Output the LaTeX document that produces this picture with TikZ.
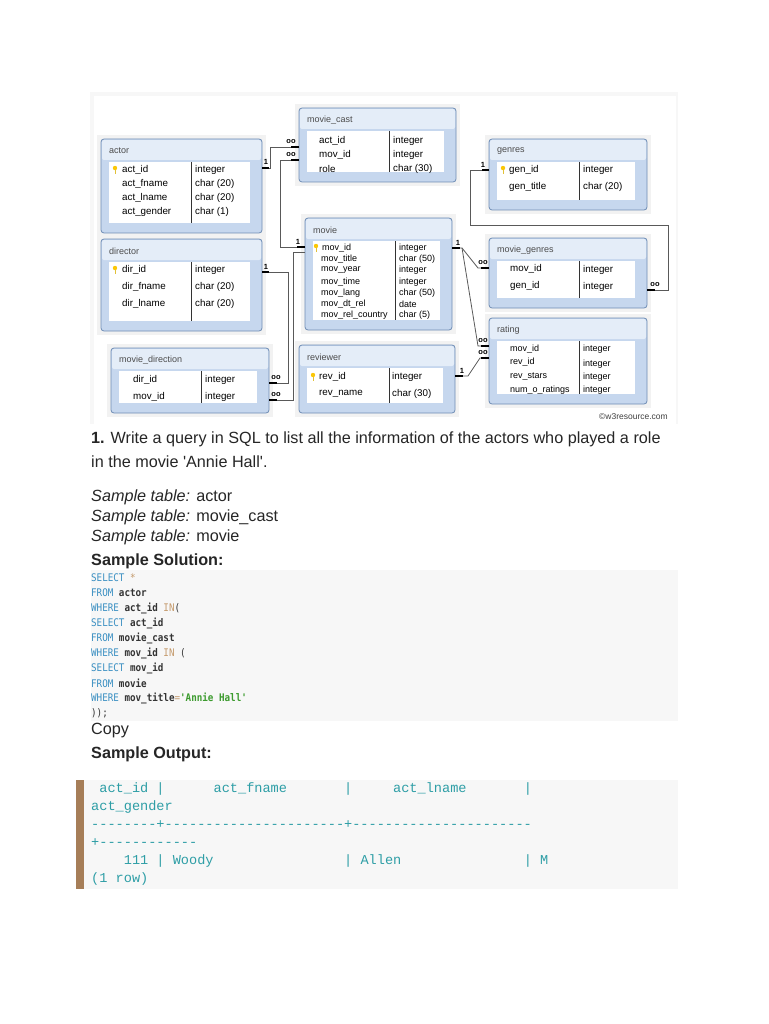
\documentclass[tikz,border=0pt]{standalone}
\usepackage{fontspec}
\setmainfont{Liberation Sans}
\setmonofont{Liberation Mono}
\newfontfamily\codefont{DejaVu Sans Mono}
\usetikzlibrary{calc}
\definecolor{tblborder}{HTML}{6F8DB5}
\definecolor{tblfill}{HTML}{C6D7EE}
\definecolor{tblhead}{HTML}{E4EDF8}
\definecolor{kw}{HTML}{3A8FC2}
\definecolor{opc}{HTML}{C49A6C}
\definecolor{strc}{HTML}{3C9B2E}
\definecolor{outc}{HTML}{2E9EA6}
\definecolor{barc}{HTML}{A67E58}
\definecolor{boxbg}{HTML}{F7F7F7}
\tikzset{
  fld/.style={anchor=west, inner sep=0pt, font=\fontsize{9.8}{9.8}\selectfont},
  small/.style={anchor=west, inner sep=0pt, font=\fontsize{9}{9}\selectfont},
  ttl/.style={anchor=west, inner sep=0pt, font=\fontsize{9}{9}\selectfont, text=black!70},
  link/.style={draw=black!65, line width=0.8pt},
  card/.style={line width=2pt, black},
  clab/.style={inner sep=0pt, font=\fontsize{7.5}{7.5}\selectfont\bfseries},
  body/.style={anchor=west, inner sep=0pt, font=\fontsize{16.2}{16.2}\selectfont, text=black!85},
  code/.style={anchor=west, inner sep=0pt, font=\fontsize{10.5}{10.5}\codefont, text=black!80, xscale=0.88},
  outl/.style={anchor=west, inner sep=0pt, font=\fontsize{13.6}{13.6}\ttfamily, text=outc},
}
% table: x1 y1 x2 y2 divider title
\newcommand\ertable[6]{%
  \fill[black!5] (#1-4,#2-4) rectangle (#3+4,#4+4);
  \draw[tblborder, fill=tblfill, rounded corners=3pt, line width=0.8pt] (#1,#2) rectangle (#3,#4);
  \fill[tblhead, rounded corners=2pt] (#1+1,#2+1) rectangle (#3-1,#2+21);
  \fill[white] (#1+8,#2+23) rectangle (#3-12,#4-10);
  \draw[black!80, line width=1pt] (#5,#2+23) -- (#5,#4-10);
  \node[ttl] at (#1+8,#2+12) {#6};
}
\newcommand\keyicon[2]{%
  \fill[yellow!60!orange] (#1,#2-2) circle (2.2pt);
  \draw[yellow!50!brown, line width=1pt] (#1,#2) -- (#1,#2+4);
}
\newcommand\manymark{\raisebox{0.3pt}{oo}}
\begin{document}
\begin{tikzpicture}[x=1pt,y=-1pt]
\useasboundingbox (0,0) rectangle (768,1024);
\fill[white] (0,0) rectangle (768,1024);
\fill[black!3] (90,92) rectangle (678,424);
\fill[white] (94,96) rectangle (676,424);

% tables
\ertable{101}{139}{262}{233}{191}{actor}
\keyicon{115}{170}
\node[fld] at (122,170) {act\_id}; \node[fld] at (195,170) {integer};
\node[fld] at (122,184) {act\_fname}; \node[fld] at (195,184) {char (20)};
\node[fld] at (122,198) {act\_lname}; \node[fld] at (195,198) {char (20)};
\node[fld] at (122,212) {act\_gender}; \node[fld] at (195,212) {char (1)};

\ertable{101}{239}{262}{331}{191}{director}
\keyicon{115}{270}
\node[fld] at (122,270) {dir\_id}; \node[fld] at (195,270) {integer};
\node[fld] at (122,287) {dir\_fname}; \node[fld] at (195,287) {char (20)};
\node[fld] at (122,304) {dir\_lname}; \node[fld] at (195,304) {char (20)};

\ertable{111}{348}{269}{413}{201}{movie\_direction}
\node[fld] at (133,380) {dir\_id}; \node[fld] at (205,380) {integer};
\node[fld] at (133,397) {mov\_id}; \node[fld] at (205,397) {integer};

\ertable{299}{108}{456}{182}{389}{movie\_cast}
\node[fld] at (319,141) {act\_id}; \node[fld] at (393,141) {integer};
\node[fld] at (319,155) {mov\_id}; \node[fld] at (393,155) {integer};
\node[fld] at (319,169) {role}; \node[fld] at (393,169) {char (30)};

\ertable{305}{218}{452}{330}{395}{movie}
\keyicon{316}{248}
\node[small] at (322,248) {mov\_id}; \node[small] at (399,248) {integer};
\node[small] at (321,259) {mov\_title}; \node[small] at (399,259) {char (50)};
\node[small] at (321,270) {mov\_year}; \node[small] at (399,270) {integer};
\node[small] at (321,282) {mov\_time}; \node[small] at (399,282) {integer};
\node[small] at (321,293) {mov\_lang}; \node[small] at (399,293) {char (50)};
\node[small] at (321,304) {mov\_dt\_rel}; \node[small] at (399,304) {date};
\node[small] at (321,315) {mov\_rel\_country}; \node[small] at (399,315) {char (5)};

\ertable{299}{345}{455}{413}{389}{reviewer}
\keyicon{313}{377}
\node[fld] at (319,377) {rev\_id}; \node[fld] at (392,377) {integer};
\node[fld] at (319,394) {rev\_name}; \node[fld] at (392,394) {char (30)};

\ertable{489}{139}{647}{210}{579}{genres}
\keyicon{503}{170}
\node[fld] at (509,170) {gen\_id}; \node[fld] at (583,170) {integer};
\node[fld] at (509,187) {gen\_title}; \node[fld] at (583,187) {char (20)};

\ertable{489}{238}{647}{308}{579}{movie\_genres}
\node[fld] at (510,269) {mov\_id}; \node[fld] at (583,270) {integer};
\node[fld] at (510,286) {gen\_id}; \node[fld] at (583,287) {integer};

\ertable{489}{318}{647}{404}{579}{rating}
\node[small] at (510,349) {mov\_id}; \node[small] at (583,349) {integer};
\node[small] at (510,362) {rev\_id}; \node[small] at (583,364) {integer};
\node[small] at (510,376) {rev\_stars}; \node[small] at (583,377) {integer};
\node[small] at (510,390) {num\_o\_ratings}; \node[small] at (583,390) {integer};

\node[anchor=east, inner sep=0pt, font=\fontsize{8.5}{8.5}\selectfont, text=black!75] (copy) at (668,417) {\textcopyright w3resource.com};

% connection points
\coordinate (actR) at (262,168);   \coordinate (mcA) at (299,147);
\coordinate (movLa) at (305,247);  \coordinate (mcB) at (299,160);
\coordinate (dirR) at (262,272);   \coordinate (mdA) at (269,383);
\coordinate (movLb) at (305,252);  \coordinate (mdB) at (269,400);
\coordinate (genL) at (489,170);   \coordinate (mgB) at (647,290);
\coordinate (movR) at (452,248);   \coordinate (mgA) at (489,268);
\coordinate (ratA) at (489,346);   \coordinate (revR) at (455,376);
\coordinate (ratB) at (489,358);

% connectors
\draw[link] (actR) -- ++(8,0) |- (mcA);
\draw[link] (movLa) -- (280,247) |- (mcB);
\draw[link] (dirR) -- (288,272) |- (mdA);
\draw[link] (movLb) -- (293,252) |- (mdB);
\draw[link] (genL) -- (470,170) -- (470,225) -- (668,225) |- (mgB);
\draw[link] (movR) -- (462,248) -- (478,268) -- (mgA);
\draw[link] (462,248) -- (478,346) -- (ratA);
\draw[link] (revR) -- (468,376) -- (480,358) -- (ratB);

% cardinality marks
\draw[card] (actR) -- ++(7,0);  \node[clab] at (266,162) {1};
\draw[card] (mcA) -- ++(-8,0);  \node[clab] at (291,142) {\manymark};
\draw[card] (mcB) -- ++(-8,0);  \node[clab] at (291,155) {\manymark};
\draw[card] (movLa) -- ++(-8,0); \node[clab] at (298,242) {1};
\draw[card] (dirR) -- ++(7,0);  \node[clab] at (266,267) {1};
\draw[card] (mdA) -- ++(8,0);   \node[clab] at (276,378) {\manymark};
\draw[card] (mdB) -- ++(8,0);   \node[clab] at (276,395) {\manymark};
\draw[card] (genL) -- ++(-7,0); \node[clab] at (483,165) {1};
\draw[card] (mgB) -- ++(8,0);   \node[clab] at (655,285) {\manymark};
\draw[card] (movR) -- ++(8,0);  \node[clab] at (458,243) {1};
\draw[card] (mgA) -- ++(-8,0);  \node[clab] at (483,263) {\manymark};
\draw[card] (ratA) -- ++(-8,0); \node[clab] at (483,341) {\manymark};
\draw[card] (ratB) -- ++(-8,0); \node[clab] at (483,353) {\manymark};
\draw[card] (revR) -- ++(8,0);  \node[clab] at (462,371) {1};

% question text
\node[body] (q1) at (91,439) {\textbf{1.} Write a query in SQL to list all the information of the actors who played a role};
\node[body] (q2) at (91,462) {in the movie \textquotesingle Annie Hall\textquotesingle.};
\node[body] (t1) at (91,497) {\textit{Sample table:} actor};
\node[body] (t2) at (91,517) {\textit{Sample table:} movie\_cast};
\node[body] (t3) at (91,537) {\textit{Sample table:} movie};
\node[body] (sol) at (91,561) {\textbf{Sample Solution:}};

% code box
\fill[boxbg] (91,570) rectangle (678,721);
\node[code] (c1) at (91,578) {\textcolor{kw}{SELECT} \textcolor{opc}{*}};
\node[code] (c2) at (91,593) {\textcolor{kw}{FROM} \textbf{actor}};
\node[code] (c3) at (91,608) {\textcolor{kw}{WHERE} \textbf{act\_id} \textcolor{opc}{IN}(};
\node[code] (c4) at (91,623) {\textcolor{kw}{SELECT} \textbf{act\_id}};
\node[code] (c5) at (91,638) {\textcolor{kw}{FROM} \textbf{movie\_cast}};
\node[code] (c6) at (91,653) {\textcolor{kw}{WHERE} \textbf{mov\_id} \textcolor{opc}{IN} (};
\node[code] (c7) at (91,668) {\textcolor{kw}{SELECT} \textbf{mov\_id}};
\node[code] (c8) at (91,683) {\textcolor{kw}{FROM} \textbf{movie}};
\node[code] (c9) at (91,698) {\textcolor{kw}{WHERE} \textbf{mov\_title}\textcolor{opc}{=}\textcolor{strc}{\textbf{\textquotesingle Annie Hall\textquotesingle}}};
\node[code] (c10) at (91,713) {));};
\node[body] (cp) at (91,731) {Copy};
\node[body] (so) at (91,754) {\textbf{Sample Output:}};

% output box
\fill[boxbg] (76,780) rectangle (678,889);
\fill[barc] (76,780) rectangle (84,889);
\node[outl] (o1) at (91,789) {~act\_id~|~~~~~~act\_fname~~~~~~~|~~~~~act\_lname~~~~~~~|};
\node[outl] (o2) at (91,807) {act\_gender};
\node[outl] (o3) at (91,825) {--------+----------------------+----------------------};
\node[outl] (o4) at (91,843) {+------------};
\node[outl] (o5) at (91,861) {~~~~111~|~Woody~~~~~~~~~~~~~~~~|~Allen~~~~~~~~~~~~~~~|~M};
\node[outl] (o6) at (91,879) {(1~row)};
\end{tikzpicture}
\end{document}
